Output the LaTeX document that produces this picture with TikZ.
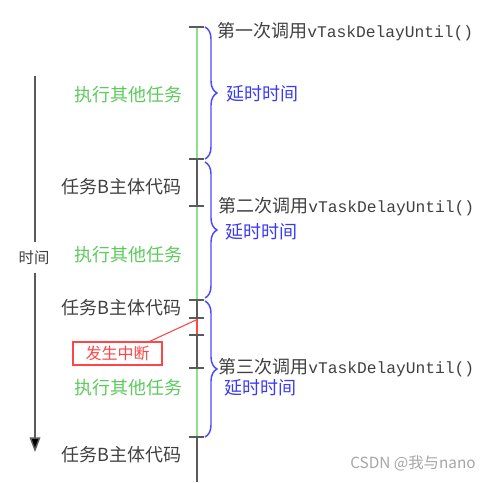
\documentclass[tikz,border=0pt]{standalone}
\usepackage{fontspec}
\setmainfont{Liberation Serif}
\newfontfamily\cjk{Noto Sans CJK SC}
\newfontfamily\code{Liberation Mono}
\usetikzlibrary{decorations.pathreplacing,arrows.meta}
\definecolor{txtgray}{HTML}{404040}
\definecolor{txtgreen}{HTML}{5CCB5C}
\definecolor{txtblue}{HTML}{3A3AF5}
\definecolor{lngreen}{HTML}{8EE08E}
\definecolor{lngray}{HTML}{5A5A5A}
\definecolor{lnblue}{HTML}{4B4BFF}
\definecolor{lnred}{HTML}{FF4545}

\begin{document}
\begin{tikzpicture}[x=0.75pt,y=-0.75pt,
	othertask/.style={anchor=east,inner sep=0pt,text=txtgreen,font=\fontsize{13.5}{14}\cjk},
	bcode/.style={anchor=east,inner sep=0pt,text=txtgray,font=\fontsize{13.5}{14}\cjk},
	call/.style={anchor=west,inner sep=0pt,text=txtgray,font=\fontsize{13.5}{14}\cjk},
	delay/.style={anchor=west,inner sep=0pt,text=txtblue,font=\fontsize{13.5}{14}\cjk}]
	\useasboundingbox (0,0) rectangle (492,482);
	% time axis
	\foreach \a/\b/\c in {27/159/lngreen,159/206/lngray,206/300/lngreen,300/319/lngray,
		319/335/lnred,335/368/lngray,368/437/lngreen,437/482/lngray}
		\draw[\c,line width=1.1pt] (197,\a) -- (197,\b);
	\foreach \y in {27,159,206,300,318,335,368,437}
		\draw[lngray,line width=1pt] (189,\y) -- (204,\y);
	\foreach \a/\b in {27/159,162/298,301/437}
		\draw[lnblue,line width=1.1pt,decorate,decoration={brace,amplitude=9pt}] (205,\a) -- (205,\b);
	% left labels
	\node[othertask] (oth1) at (183,95) {执行其他任务};
	\node[othertask] (oth2) at (183,255) {执行其他任务};
	\node[othertask] (oth3) at (183,388) {执行其他任务};
	\node[bcode] (body1) at (182,187) {任务B主体代码};
	\node[bcode] (body2) at (182,308) {任务B主体代码};
	\node[bcode] (body3) at (182,455) {任务B主体代码};
	% right labels
	\node[call] (call1) at (217,32) {第一次调用{\fontsize{12.2}{14}\code vTaskDelayUntil()}};
	\node[call] (call2) at (218,207) {第二次调用{\fontsize{12.2}{14}\code vTaskDelayUntil()}};
	\node[call] (call3) at (218,368) {第三次调用{\fontsize{12.2}{14}\code vTaskDelayUntil()}};
	\node[delay] (dly1) at (226,94) {延时时间};
	\node[delay] (dly2) at (225,232) {延时时间};
	\node[delay] (dly3) at (224,388) {延时时间};
	% interrupt
	\node[draw=lnred,text=lnred,line width=0.8pt,minimum width=66.75pt,minimum height=17.25pt,
		inner sep=0pt,font=\fontsize{12}{13}\cjk] (irq) at (117.5,353.5) {发生中断};
	\coordinate (irqpt) at (196,320);
	\draw[lnred,line width=0.8pt] ([xshift=24pt]irq.north) -- (irqpt);
	% time arrow
	\node[inner sep=0pt,minimum height=23.25pt,text=txtgray,font=\fontsize{11.5}{12}\cjk] (tlbl) at (34,257.5) {时间};
	\coordinate (ttop) at (35,76);
	\coordinate (tend) at (35,452);
	\draw[lngray,line width=1.1pt] (ttop) -- (ttop |- tlbl.north);
	\draw[lngray,line width=1.1pt,-{Triangle[length=11pt,width=8pt,fill=black]}] (tend |- tlbl.south) -- (tend);
	\node[anchor=west,inner sep=0pt,text=gray!70,font=\fontsize{11.5}{12}\cjk] (mark) at (350,463) {CSDN @我与nano};
\end{tikzpicture}
\end{document}
